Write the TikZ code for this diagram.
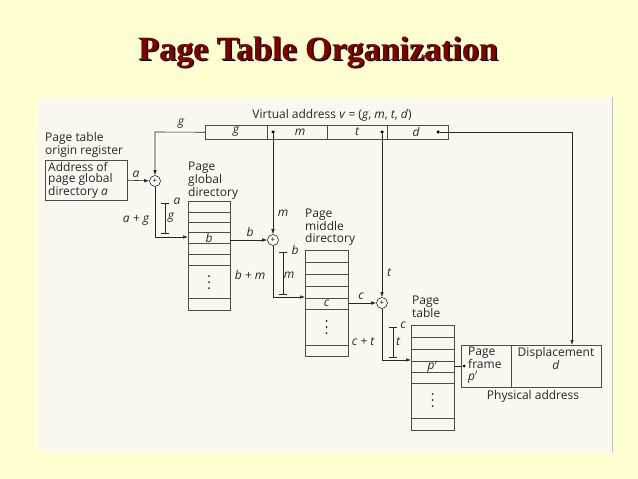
\documentclass[tikz,border=0pt]{standalone}
\usepackage{fontspec}
\setmainfont{Liberation Serif}
\newfontfamily\diag{Open Sans}
\usetikzlibrary{arrows.meta}
\definecolor{bgy}{HTML}{FFFFD2}
\definecolor{panel}{HTML}{FBF8F0}
\definecolor{ttl}{HTML}{800000}
\begin{document}
\begin{tikzpicture}[x=1pt,y=-1pt,
  ln/.style={draw=black!85,line width=0.6pt},
  arr/.style={ln,-{Latex[length=5pt,width=3.5pt]}},
  lbl/.style={font=\diag\fontsize{12}{11.5}\selectfont,inner sep=0pt,text=black!85},
  it/.style={lbl,font=\diag\itshape\fontsize{12}{11.5}\selectfont},
  plus/.style={circle,draw=black!85,line width=0.6pt,minimum size=11pt,inner sep=0pt,font=\diag\fontsize{8}{8}\selectfont,fill=white},
  tbl/.style={draw=black!70,line width=0.5pt,inner sep=0pt,anchor=north west},
  dotc/.style={circle,fill=black,inner sep=0pt,minimum size=3.5pt},
  vd/.style={fill=black!85}]
\useasboundingbox (0,0) rectangle (638,479);
\fill[bgy] (0,0) rectangle (638,479);
\fill[panel] (37,97) rectangle (612,452);
\draw[black!25,line width=1pt] (612,97) -- (612,452);
% title
\node[font=\bfseries\fontsize{34}{36}\selectfont,text=black] at (319.5,53.5) {Page Table Organization};
\node[font=\bfseries\fontsize{34}{36}\selectfont,text=ttl] (title) at (318,52) {Page Table Organization};
% virtual address bar
\node[tbl,minimum width=243pt,minimum height=14pt] (va) at (205,125) {};
\draw[black!70] (267,125)--(267,139) (327,125)--(327,139) (387,125)--(387,139);
\node[it] at (236,132) {g};
\node[it] at (300,132) {m};
\node[it] at (357,132) {t};
\node[it] at (416,132) {d};
\node[lbl,anchor=south] at (332,122) {Virtual address \textit{v} = (\textit{g}, \textit{m}, \textit{t}, \textit{d})};
\node[dotc] (dm) at (273,132) {};
\node[dotc] (dt) at (382,132) {};
\node[dotc] (dd) at (438,132) {};
% origin register
\node[lbl,anchor=north west,align=left] at (45,132) {Page table\\origin register};
\node[tbl,minimum width=82pt,minimum height=40pt] (org) at (45,160) {};
\node[lbl,anchor=north west,align=left] at (48,162) {Address of\\page global\\directory \textit{a}};
% plus nodes
\node[plus] (p1) at (155,181) {+};
\node[plus] (p2) at (273,240) {+};
\node[plus] (p3) at (382,303) {+};
% g
\coordinate (gc) at (155,132);
\draw[arr] (va.west) -- (gc) -- (p1);
\node[it] at (181,124) {g};
\draw[arr] (org.east) -- (p1);
\node[it] at (136,174) {a};
% PGD
\node[lbl,anchor=north west,align=left] at (188,162) {Page\\global\\directory};
\node[tbl,minimum width=42pt,minimum height=109pt] (pgd) at (188,201) {};
\foreach \y in {212,222,232,243,254,265,298} \draw[black!70] (188,\y)--(230,\y);
\node[it] at (209,237.5) {b};
\foreach \y in {276,282,288} \fill[vd] (209,\y) circle (1pt);
\coordinate (c1) at (155,237);
\draw[arr] (p1) -- (c1) -- (188,237);
\node[it] at (136,220) {a + g};
\draw[ln] (161,203)--(169,203) (165,203)--(165,233) (161,233)--(169,233);
\node[it] at (177,201) {a};
\node[it] at (171,218) {g};
% b to p2
\draw[arr] (230,240) -- (p2);
\node[it] at (250,232) {b};
\draw[arr] (dm) -- (p2);
\node[it] at (283,213) {m};
% PMD
\node[lbl,anchor=north west,align=left] at (305,209) {Page\\middle\\directory};
\node[tbl,minimum width=43pt,minimum height=106pt] (pmd) at (305,250) {};
\foreach \y in {262,274,286,298,309,345} \draw[black!70] (305,\y)--(348,\y);
\node[it] at (326.5,303.5) {c};
\foreach \y in {321,327,333} \fill[vd] (326.5,\y) circle (1pt);
\coordinate (c2) at (273,297);
\draw[arr] (p2) -- (c2) -- (305,297);
\node[it] at (250,275) {b + m};
\draw[ln] (279,252)--(287,252) (283,252)--(283,294) (279,294)--(287,294);
\node[it] at (295,250) {b};
\node[it] at (289,275) {m};
% c to p3
\draw[arr] (348,303) -- (p3);
\node[it] at (361,296) {c};
\draw[arr] (dt) -- (p3);
\node[it] at (389,273) {t};
% PT
\node[lbl,anchor=north west,align=left] at (412,296) {Page\\table};
\node[tbl,minimum width=43pt,minimum height=105pt] (pt) at (411,325) {};
\foreach \y in {337,349,361,372,383,418} \draw[black!70] (411,\y)--(454,\y);
\node[it] at (432.5,366.5) {p$'$};
\foreach \y in {394,400,406} \fill[vd] (432.5,\y) circle (1pt);
\coordinate (c3) at (382,360);
\draw[arr] (p3) -- (c3) -- (411,360);
\node[it] at (363,342) {c + t};
\draw[ln] (389,327)--(397,327) (393,327)--(393,357) (389,357)--(397,357);
\node[it] at (403,325) {c};
\node[it] at (398,342) {t};
% physical address
\node[tbl,minimum width=140pt,minimum height=42pt] (pa) at (461,345) {};
\draw[black!70] (511,345)--(511,387);
\node[lbl,anchor=north west,align=left] at (468,347) {Page\\frame\\\textit{p$'$}};
\node[lbl,anchor=north,align=center] at (556,347) {Displacement\\\textit{d}};
\node[lbl,anchor=north] at (533,390) {Physical address};
\node[dotc,minimum size=3pt] (pf) at (464,366) {};
\draw[ln] (454,366) -- (pf);
% d
\coordinate (dc) at (572,132);
\draw[arr] (dd) -- (dc) -- (572,345);
\end{tikzpicture}
\end{document}
